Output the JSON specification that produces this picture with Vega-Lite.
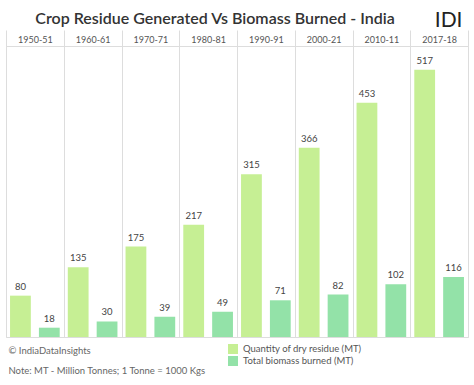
{
  "$schema": "https://vega.github.io/schema/vega-lite/v6.json",
  "width": 462,
  "height": 291,
  "autosize": {"type": "none"},
  "padding": {"left": 6, "top": 46, "right": 6, "bottom": 48},
  "background": "white",
  "title": {
    "text": "Crop Residue Generated Vs Biomass Burned - India",
    "font": "Lato",
    "fontSize": 16,
    "fontWeight": 600,
    "color": "#333333",
    "anchor": "middle",
    "baseline": "alphabetic",
    "dx": -22,
    "dy": 31,
    "offset": 0
  },
  "config": {
    "view": {"stroke": "#dddddd", "strokeWidth": 1},
    "font": "Lato"
  },
  "data": {
    "values": [
      {"period": "1950-51", "series": "Quantity of dry residue (MT)", "value": 80},
      {"period": "1950-51", "series": "Total biomass burned (MT)", "value": 18},
      {"period": "1960-61", "series": "Quantity of dry residue (MT)", "value": 135},
      {"period": "1960-61", "series": "Total biomass burned (MT)", "value": 30},
      {"period": "1970-71", "series": "Quantity of dry residue (MT)", "value": 175},
      {"period": "1970-71", "series": "Total biomass burned (MT)", "value": 39},
      {"period": "1980-81", "series": "Quantity of dry residue (MT)", "value": 217},
      {"period": "1980-81", "series": "Total biomass burned (MT)", "value": 49},
      {"period": "1990-91", "series": "Quantity of dry residue (MT)", "value": 315},
      {"period": "1990-91", "series": "Total biomass burned (MT)", "value": 71},
      {"period": "2000-21", "series": "Quantity of dry residue (MT)", "value": 366},
      {"period": "2000-21", "series": "Total biomass burned (MT)", "value": 82},
      {"period": "2010-11", "series": "Quantity of dry residue (MT)", "value": 453},
      {"period": "2010-11", "series": "Total biomass burned (MT)", "value": 102},
      {"period": "2017-18", "series": "Quantity of dry residue (MT)", "value": 517},
      {"period": "2017-18", "series": "Total biomass burned (MT)", "value": 116}
    ]
  },
  "layer": [
    {
      "mark": {"type": "bar"},
      "encoding": {
        "x": {
          "field": "period",
          "type": "nominal",
          "sort": null,
          "scale": {"paddingInner": 0, "paddingOuter": 0},
          "axis": {
            "orient": "top",
            "title": "IDI",
            "titleFont": "Lato",
            "titleFontSize": 21,
            "titleFontWeight": "normal",
            "titleColor": "#222222",
            "titleAlign": "right",
            "titleBaseline": "middle",
            "titleAnchor": "end",
            "titleX": 456,
            "titleY": -26,
            "labelAngle": 0,
            "labelFontSize": 9,
            "labelColor": "#555555",
            "labelPadding": -14,
            "tickBand": "extent",
            "tickSize": 16,
            "tickColor": "#dddddd",
            "domainColor": "#dddddd",
            "grid": true,
            "gridColor": "#dddddd"
          }
        },
        "xOffset": {
          "field": "series",
          "type": "nominal",
          "sort": null,
          "scale": {"paddingInner": 0.28, "paddingOuter": 0.14}
        },
        "y": {
          "field": "value",
          "type": "quantitative",
          "scale": {"domain": [0, 563], "nice": false},
          "axis": null
        },
        "color": {
          "field": "series",
          "type": "nominal",
          "sort": null,
          "scale": {"range": ["#c6ef94", "#93e2a8"]},
          "legend": {
            "title": null,
            "orient": "none",
            "legendX": 222,
            "legendY": 298,
            "padding": 0,
            "symbolType": "square",
            "symbolSize": 100,
            "symbolStrokeWidth": 0,
            "symbolOpacity": 1,
            "labelFontSize": 9.5,
            "labelColor": "#555555",
            "labelOffset": 5,
            "rowPadding": 2
          }
        }
      }
    },
    {
      "mark": {"type": "text", "baseline": "bottom", "dy": -4, "fontSize": 9.5, "color": "#444444"},
      "encoding": {
        "x": {
          "field": "period",
          "type": "nominal",
          "sort": null,
          "scale": {"paddingInner": 0, "paddingOuter": 0},
          "axis": {
            "orient": "bottom",
            "labels": false,
            "ticks": false,
            "domain": false,
            "grid": false,
            "title": ["© IndiaDataInsights", "Note: MT - Million Tonnes; 1 Tonne = 1000 Kgs"],
            "titleFont": "Lato",
            "titleFontSize": 9.5,
            "titleFontWeight": "normal",
            "titleColor": "#666666",
            "titleAlign": "left",
            "titleAnchor": "start",
            "titleBaseline": "top",
            "titleLineHeight": 20,
            "titleX": 2,
            "titleY": 8
          }
        },
        "xOffset": {"field": "series", "type": "nominal", "sort": null},
        "y": {"field": "value", "type": "quantitative"},
        "text": {"field": "value", "type": "quantitative"}
      }
    }
  ],
  "resolve": {"axis": {"x": "independent"}}
}
